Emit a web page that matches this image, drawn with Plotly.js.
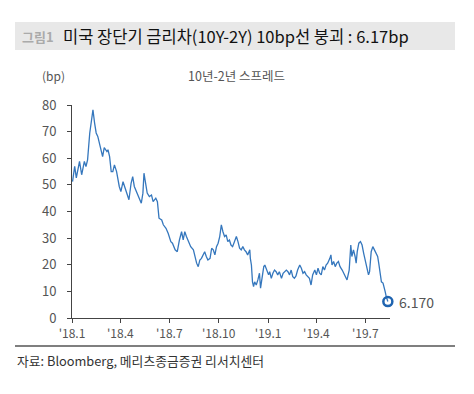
<!DOCTYPE html>
<html><head><meta charset="utf-8">
<script src="https://cdn.plot.ly/plotly-3.0.1.min.js"></script>
<style>html,body{margin:0;padding:0;background:#fff;}#chart{width:474px;height:394px;}</style>
</head><body><div id="chart"></div>
<script>
const dates = ["2018-01-02","2018-01-06","2018-01-09","2018-01-15","2018-01-19","2018-01-24","2018-01-27","2018-01-30","2018-02-03","2018-02-09","2018-02-12","2018-02-15","2018-02-18","2018-02-23","2018-02-27","2018-03-02","2018-03-07","2018-03-09","2018-03-12","2018-03-15","2018-03-18","2018-03-21","2018-03-25","2018-03-30","2018-04-02","2018-04-06","2018-04-09","2018-04-14","2018-04-17","2018-04-21","2018-04-24","2018-04-27","2018-05-04","2018-05-07","2018-05-10","2018-05-13","2018-05-15","2018-05-17","2018-05-21","2018-05-25","2018-05-29","2018-06-01","2018-06-06","2018-06-09","2018-06-12","2018-06-17","2018-06-20","2018-06-25","2018-06-29","2018-07-04","2018-07-07","2018-07-12","2018-07-16","2018-07-20","2018-07-24","2018-07-27","2018-07-30","2018-08-02","2018-08-05","2018-08-10","2018-08-15","2018-08-18","2018-08-21","2018-08-24","2018-08-27","2018-08-30","2018-09-02","2018-09-05","2018-09-08","2018-09-11","2018-09-15","2018-09-18","2018-09-21","2018-09-24","2018-09-27","2018-09-30","2018-10-03","2018-10-06","2018-10-09","2018-10-12","2018-10-15","2018-10-18","2018-10-21","2018-10-24","2018-10-27","2018-10-31","2018-11-03","2018-11-06","2018-11-09","2018-11-12","2018-11-15","2018-11-18","2018-11-21","2018-11-24","2018-11-28","2018-11-29","2018-12-01","2018-12-03","2018-12-05","2018-12-07","2018-12-10","2018-12-13","2018-12-16","2018-12-18","2018-12-21","2018-12-24","2018-12-26","2018-12-29","2019-01-02","2019-01-04","2019-01-07","2019-01-10","2019-01-13","2019-01-16","2019-01-19","2019-01-22","2019-01-26","2019-01-29","2019-02-01","2019-02-04","2019-02-07","2019-02-10","2019-02-13","2019-02-16","2019-02-19","2019-02-22","2019-02-25","2019-03-01","2019-03-04","2019-03-07","2019-03-10","2019-03-13","2019-03-19","2019-03-22","2019-03-25","2019-03-29","2019-04-01","2019-04-04","2019-04-07","2019-04-10","2019-04-13","2019-04-16","2019-04-19","2019-04-22","2019-04-26","2019-04-28","2019-04-30","2019-05-03","2019-05-06","2019-05-09","2019-05-12","2019-05-15","2019-05-19","2019-05-23","2019-05-28","2019-06-01","2019-06-02","2019-06-04","2019-06-06","2019-06-09","2019-06-12","2019-06-14","2019-06-16","2019-06-19","2019-06-22","2019-06-25","2019-06-28","2019-07-02","2019-07-05","2019-07-07","2019-07-09","2019-07-12","2019-07-15","2019-07-18","2019-07-21","2019-07-24","2019-07-26","2019-07-29","2019-07-31","2019-08-03","2019-08-05","2019-08-07","2019-08-09","2019-08-12"];
const spread = [51.2,57.0,52.6,58.8,53.8,58.8,56.9,59.4,69.4,78.2,73.3,69.5,68.2,63.2,60.6,64.0,62.5,63.2,60.6,55.0,55.0,57.5,55.0,49.4,47.5,51.2,49.4,45.6,44.4,50.6,53.1,49.4,45.6,44.4,43.1,46.9,54.4,51.9,46.9,45.6,46.2,43.7,45.0,43.7,37.5,36.8,35.0,33.7,31.8,28.7,28.1,25.6,24.9,29.3,32.4,29.3,32.4,30.6,29.3,26.8,25.6,23.1,20.6,19.3,21.8,22.4,23.7,24.9,23.1,21.8,22.4,26.2,25.6,23.7,26.8,28.1,30.6,35.0,32.4,30.6,31.2,28.7,29.3,27.4,26.8,29.3,30.6,28.7,26.2,25.6,26.8,25.6,24.9,23.7,25.6,22.4,19.9,13.6,11.8,13.6,12.4,14.3,16.8,11.2,16.2,19.3,19.9,18.0,16.2,17.4,14.9,16.8,18.0,17.4,16.2,17.4,14.9,16.8,17.4,18.0,17.4,16.2,18.0,15.5,14.9,15.8,18.0,19.9,18.7,16.8,17.4,16.2,14.9,12.4,16.2,18.0,16.2,18.7,16.8,16.2,19.3,18.0,19.9,20.6,22.4,23.7,19.9,21.2,19.3,20.6,21.2,19.3,18.0,16.2,14.3,18.0,23.1,27.4,23.1,25.6,23.1,20.6,24.9,28.1,28.7,27.4,24.3,19.9,18.0,16.2,17.4,24.9,26.8,25.6,24.3,23.1,20.6,14.9,13.6,13.1,11.8,9.9,8.0,6.17];
const lastDate = ["2019-08-12"];
const lastValue = [6.17];
const lastLabel = "6.170";
const tickVals = ["2018-01-01","2018-04-01","2018-07-01","2018-10-01","2019-01-01","2019-04-01","2019-07-01"];
const tickText = ["'18.1","'18.4","'18.7","'18.10","'19.1","'19.4","'19.7"];
const yTicks = [0,10,20,30,40,50,60,70,80];

const FONT = "'Noto Sans CJK KR', 'Noto Sans', sans-serif";
const traces = [
  {x: dates, y: spread, type: 'scatter', mode: 'lines', line: {color: '#3577bd', width: 1.3}, hoverinfo: 'skip', cliponaxis: false},
  {x: lastDate, y: lastValue, type: 'scatter', mode: 'markers', cliponaxis: false,
    marker: {symbol: 'circle-open', size: 9, color: '#1f64b0', line: {width: 2.5, color: '#1f64b0'}}, hoverinfo: 'skip'}
];
const layout = {
  width: 474, height: 394,
  margin: {l: 72, r: 84, t: 105, b: 76},
  paper_bgcolor: '#fff', plot_bgcolor: '#fff',
  showlegend: false,
  font: {family: FONT, color: '#555', size: 12},
  xaxis: {type: 'date', range: ['2018-01-01', '2019-08-16'], tickvals: tickVals, ticktext: tickText,
    showgrid: false, zeroline: false, showline: true, linecolor: '#444', linewidth: 1,
    ticks: 'outside', ticklen: 4, tickcolor: '#444', ticklabelstandoff: 1, tickfont: {size: 12, color: '#555', family: FONT}},
  yaxis: {range: [0, 80], tickvals: yTicks, showgrid: false, zeroline: false, showline: true,
    linecolor: '#444', linewidth: 1, ticks: 'outside', ticklen: 4, tickcolor: '#444', ticklabelstandoff: 8,
    tickfont: {size: 13, color: '#555', family: FONT}},
  shapes: [
    {type: 'rect', xref: 'paper', yref: 'paper', x0: -57/318, x1: 383/318, y0: (318-50)/213, y1: (318-22)/213, fillcolor: '#e8e8e8', line: {width: 0}},
    {type: 'line', xref: 'paper', yref: 'paper', x0: -57/318, x1: 383/318, y0: -28/213, y1: -28/213, line: {color: '#555', width: 1.5}}
  ],
  annotations: [
    {xref: 'paper', yref: 'paper', x: -52/318, y: (318-36)/213, xanchor: 'left', yanchor: 'middle', showarrow: false,
      text: '<b>그림1</b>', font: {size: 13, color: '#aaa', family: FONT}},
    {xref: 'paper', yref: 'paper', x: -11/318, y: (318-36)/213, xanchor: 'left', yanchor: 'middle', showarrow: false,
      text: '미국 장단기 금리차(10Y-2Y) 10bp선 붕괴 : 6.17bp', font: {size: 16.5, color: '#111', family: FONT}},
    {xref: 'paper', yref: 'paper', x: -32/318, y: (318-75)/213, xanchor: 'left', yanchor: 'middle', showarrow: false,
      text: '(bp)', font: {size: 12, color: '#555', family: FONT}},
    {xref: 'paper', yref: 'paper', x: (236-72)/318, y: (318-75)/213, xanchor: 'center', yanchor: 'middle', showarrow: false,
      text: '10년-2년 스프레드', font: {size: 12.5, color: '#555', family: FONT}},
    {x: lastDate[0], y: lastValue[0], xref: 'x', yref: 'y', xanchor: 'left', yanchor: 'middle', xshift: 9, showarrow: false,
      text: lastLabel, font: {size: 14, color: '#555', family: FONT}},
    {xref: 'paper', yref: 'paper', x: -57/318, y: -42/213, xanchor: 'left', yanchor: 'middle', showarrow: false,
      text: '자료: Bloomberg, 메리츠종금증권 리서치센터', font: {size: 12.8, color: '#333', family: FONT}}
  ]
};
Plotly.newPlot('chart', traces, layout, {staticPlot: true});
</script></body></html>
